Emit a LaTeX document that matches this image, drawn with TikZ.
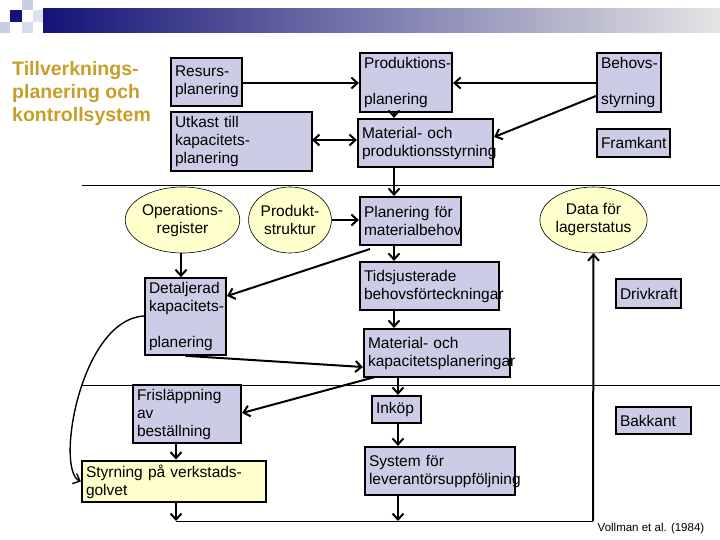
\documentclass[tikz,border=0pt]{standalone}
\usepackage{fontspec}
\setmainfont{Liberation Sans}
\usetikzlibrary{positioning}
\usetikzlibrary{arrows.meta}
\usetikzlibrary{shapes.geometric}
\definecolor{boxfill}{RGB}{204,204,230}
\definecolor{dbfill}{RGB}{255,255,204}
\definecolor{titlegold}{RGB}{200,158,40}
\definecolor{navy}{RGB}{20,20,120}
\tikzset{
  box/.style={draw=black, line width=2.2pt, fill=boxfill, align=left, inner sep=4pt,
    font=\fontsize{15.5}{18}\selectfont},
  db/.style={draw=black, line width=0.6pt, fill=dbfill, ellipse, align=center, inner sep=0pt,
    font=\fontsize{15.5}{18}\selectfont},
  flow/.style={-{Straight Barb[length=6pt,width=11pt]}, line width=2pt},
  sep/.style={line width=1pt},
}
\begin{document}
\begin{tikzpicture}[x=1pt,y=-1pt]
  \useasboundingbox (0,0) rectangle (720,540);
  % header
  \shade[left color=navy, right color=black!10] (43,9) rectangle (720,33);
  \fill[navy] (10,10) rectangle (22,22);
  \fill[boxfill] (22,0) rectangle (33,10);
  \fill[boxfill] (0,22) rectangle (10,33);
  \fill[boxfill!70] (22,22) rectangle (33,33);
  \fill[boxfill!60] (33,10) rectangle (43,22);

  \node[anchor=north west, align=left, text=titlegold, font=\bfseries\fontsize{19.5}{23}\selectfont, inner sep=0pt]
    (title) at (12,61) {Tillverknings-\\planering och\\kontrollsystem};

  % upper rows
  \node[box, text width=63pt, minimum height=48pt] (resurs) at (206.5,82) {Resurs-\\planering};
  \node[box, text width=133pt, minimum height=47pt] (utkast) at (241.5,141.5) {Utkast till kapacitets-\\planering};
  \node[box, text width=84pt, minimum height=47pt] (prodplan) at (406,82.5) {Produktions-\\planering};
  \node[box, text width=56pt, minimum height=47pt] (behov) at (629,82.5) {Behovs-\\styrning};
  \node[box, text width=127pt, minimum height=48pt] (matprod) at (425.5,143) {Material- och\\produktionsstyrning};
  \node[box, text width=65pt, minimum height=28pt] (framkant) at (633.5,143) {Framkant};

  \draw[sep] (82,186) -- (720,186);

  % middle rows
  \node[db, minimum width=61pt, minimum height=66pt] (opreg) at (182.5,220) {Operations-\\register};
  \node[db, minimum width=64pt, minimum height=66pt] (struktur) at (290,220) {Produkt-\\struktur};
  \node[box, text width=93pt, minimum height=48pt] (matbehov) at (410.5,221) {Planering för\\materialbehov};
  \node[db, minimum width=77pt, minimum height=66pt] (lager) at (593.5,220) {Data för\\lagerstatus};
  \node[box, text width=131pt, minimum height=48pt] (tidsj) at (429.5,286) {Tidsjusterade\\behovsförteckningar};
  \node[box, text width=57pt, minimum height=29pt] (drivkraft) at (648.5,293.5) {Drivkraft};
  \node[box, text width=73pt, minimum height=67pt] (detalj) at (185.5,316.5) {Detaljerad\\kapacitets-\\planering};
  \node[box, text width=138pt, minimum height=48pt] (matkap) at (437,353) {Material- och\\kapacitetsplaneringar};

  \draw[sep] (82,385) -- (720,385);

  % lower rows
  \node[box, text width=100pt, minimum height=48pt] (frislapp) at (187,414) {Frisläppning av\\beställning};
  \node[box, text width=41pt, minimum height=27pt] (inkop) at (396.5,409.5) {Inköp};
  \node[box, text width=67pt, minimum height=27pt] (bakkant) at (653.5,420.5) {Bakkant};
  \node[box, text width=142pt, minimum height=48pt] (system) at (440,471) {System för\\leverantörsuppföljning};
  \node[box, fill=dbfill, text width=176pt, minimum height=27pt] (styrning) at (174,481.5) {Styrning på verkstadsgolvet};

  \coordinate (botl) at (176,521);
  \coordinate (botm) at (398,521);
  \coordinate (botr) at (593,521);
  \node[font=\fontsize{11.5}{13}\selectfont, inner sep=0pt] (kalla) at (651,529) {Vollman et al. (1984)};

  % connectors
  \draw[flow] (resurs.east |- 0,83) -- (prodplan.west |- 0,83);
  \draw[flow] (behov.west |- 0,83) -- (prodplan.east |- 0,83);
  \draw[flow] (behov.west |- 0,96) -- (matprod.east |- 0,137);
  \draw[flow, {Straight Barb[length=6pt,width=11pt]}-{Straight Barb[length=6pt,width=11pt]}] (312,140) -- (matprod.west |- 0,140);
  \draw[flow] (prodplan.south -| 394,0) -- (matprod.north -| 394,0);
  \draw[flow] (matprod.south -| 394,0) -- (matbehov.north -| 394,0);
  \draw[flow] (struktur.east) -- (matbehov.west |- struktur.east);
  \draw[flow] (matbehov.south -| 394,0) -- (tidsj.north -| 394,0);
  \draw[flow] (370,249) -- (detalj.east |- 0,296);
  \draw[flow] (opreg.south -| 181,0) -- (detalj.north -| 181,0);
  \draw[flow] (tidsj.south -| 394,0) -- (matkap.north -| 394,0);
  \draw[flow] (detalj.south) -- (matkap.west |- 0,367);
  \draw[flow, line width=1.4pt] (detalj.west |- 0,316) .. controls (80,320) and (55,470) .. (styrning.west);
  \draw[flow] (375,377) -- (frislapp.east |- 0,413);
  \draw[flow] (matkap.south -| 398,0) -- (inkop.north -| 398,0);
  \draw[flow] (inkop.south -| 398,0) -- (system.north -| 398,0);
  \draw[flow] (frislapp.south -| 176,0) -- (styrning.north -| 176,0);
  \draw[flow] (styrning.south -| 176,0) -- (botl);
  \draw[flow] (system.south -| 398,0) -- (botm);
  \draw[line width=1pt] (botl) -- (botr);
  \draw[flow] (botr) -- (lager.south);
\end{tikzpicture}
\end{document}
